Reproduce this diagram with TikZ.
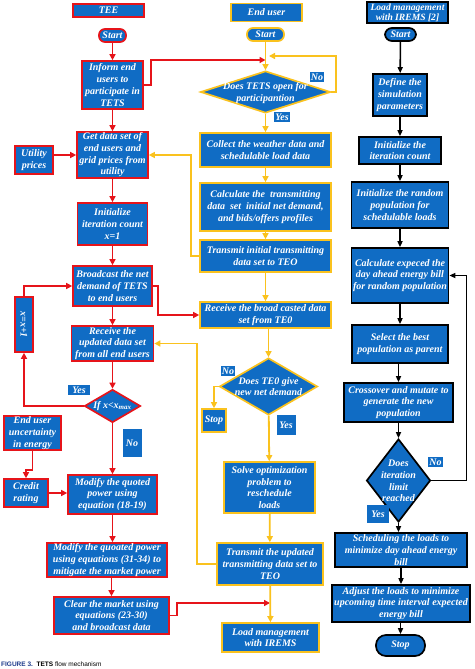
\documentclass[tikz,border=0pt]{standalone}
\usepackage{fontspec}
\setmainfont{Liberation Serif}
\newfontfamily\capfont{Liberation Sans}
\usetikzlibrary{shapes.geometric,arrows.meta}
\definecolor{bfill}{RGB}{16,108,196}
\definecolor{rline}{RGB}{230,20,26}
\definecolor{yline}{RGB}{250,194,30}
\definecolor{capblue}{RGB}{30,60,140}
\newcommand{\fs}{\fontsize{10}{11.7}\selectfont\bfseries\itshape}
\tikzset{
  base/.style={fill=bfill, text=white, font=\fs, align=center, inner sep=0.5pt, line width=1.7pt},
  rbox/.style={base, draw=rline},
  ybox/.style={base, draw=yline},
  kbox/.style={base, draw=black},
  rstart/.style={rbox, rounded corners=6pt},
  ystart/.style={ybox, rounded corners=6pt},
  kstart/.style={kbox, rounded corners=7pt},
  dia/.style={diamond, fill=bfill, line width=1.7pt, inner sep=0pt},
  dtext/.style={text=white, font=\fs, align=center, inner sep=0pt},
  lab/.style={fill=bfill, text=white, font=\fs, inner sep=1.2pt},
  rarr/.style={draw=rline, line width=1.6pt, -{Triangle[length=6pt,width=6pt]}},
  yarr/.style={draw=yline, line width=1.8pt, -{Triangle[length=6pt,width=6pt]}},
  karr/.style={draw=black, line width=1.6pt, -{Triangle[length=6pt,width=5pt]}}
}
\begin{document}
\begin{tikzpicture}[x=1pt,y=-1pt]
\useasboundingbox[fill=white] (0,0) rectangle (474,669);

% ---------------- left column (TEE) ----------------
\node[rbox, minimum width=71pt, minimum height=13pt] (tee) at (108.5,10.5) {TEE};
\node[rstart, minimum width=27pt, minimum height=13pt] (tstart) at (112.5,35.5) {Start};
\node[rbox, minimum width=61pt, minimum height=48pt] (inform) at (112.5,85) {Inform end\\users to\\participate in\\TETS};
\node[rbox, minimum width=71pt, minimum height=46pt] (getdata) at (112.5,155) {Get data set of\\end users and\\grid prices from\\utility};
\node[rbox, minimum width=38pt, minimum height=28pt] (utility) at (34,160) {Utility\\prices};
\node[rbox, minimum width=70pt, minimum height=42pt] (init) at (112.5,224) {Initialize\\iteration count\\x=1};
\node[rbox, minimum width=79pt, minimum height=40pt] (bcast) at (112.5,286) {Broadcast the net\\demand of TETS\\to end users};
\node[rbox, minimum width=18pt, minimum height=55pt] (loopb) at (24,324.5) {};
\node[dtext, rotate=-90] (loopt) at (loopb) {x=x+1};
\node[rbox, minimum width=82pt, minimum height=35pt] (recvu) at (112.5,343.5) {Receive the\\updated data set\\from all end users};
\node[dia, draw=rline, minimum width=56pt, minimum height=33pt] (dx) at (112.5,406) {};
\node[dtext] (dxt) at (dx) {If x<x\textsubscript{max}};
\node[lab, minimum width=22pt] (yes1) at (79,390) {Yes};
\node[lab, minimum width=19pt, minimum height=28pt] (no1) at (132,443) {No};
\node[rbox, minimum width=57pt, minimum height=34pt] (uncert) at (32.5,433) {End user\\uncertainty\\in energy};
\node[rbox, minimum width=44pt, minimum height=28pt] (credit) at (26,493) {Credit\\rating};
\node[rbox, minimum width=89pt, minimum height=39pt] (modify) at (112.5,494.5) {Modify the quoted\\power using\\equation (18-19)};
\node[rbox, minimum width=120pt, minimum height=34pt] (modq) at (107,560) {Modify the quoated power\\using equations (31-34) to\\mitigate the market power};
\node[rbox, minimum width=115pt, minimum height=37pt] (clear) at (111.5,615.5) {Clear the market using\\equations (23-30)\\and broadcast data};

% ---------------- middle column (End user) ----------------
\node[ybox, minimum width=71pt, minimum height=18pt] (euser) at (266.5,12.5) {End user};
\node[ystart, minimum width=37pt, minimum height=13pt] (estart) at (265.5,34.5) {Start};
\node[dia, draw=yline, minimum width=130pt, minimum height=42pt] (d1) at (265.5,92) {};
\node[dtext] (d1t) at (265.5,93) {Does TETS open for\\participantion};
\node[lab] (no2) at (317,77) {No};
\node[lab] (yes2) at (282,117) {Yes};
\node[ybox, minimum width=131pt, minimum height=34pt] (collect) at (265.5,150) {Collect the weather data and\\schedulable load data};
\node[ybox, minimum width=131pt, minimum height=48pt] (calc) at (265.5,207) {Calculate the \ transmitting\\data \ set \ initial net demand,\\and bids/offers profiles};
\node[ybox, minimum width=131pt, minimum height=32pt] (transi) at (265.5,256) {Transmit initial transmitting\\data set to TEO};
\node[ybox, minimum width=131pt, minimum height=26pt] (rbroad) at (265.5,315) {Receive the broad casted data\\set from TE0};
\node[dia, draw=yline, minimum width=98pt, minimum height=57pt] (d2) at (268.5,386.5) {};
\node[dtext] (d2t) at (268.5,386.5) {Does TE0 give\\new net demand};
\node[lab] (no3) at (228,371) {No};
\node[ybox, minimum width=24pt, minimum height=23pt] (ystop) at (214,420.5) {Stop};
\node[lab, minimum width=19pt, minimum height=20pt] (yes3) at (286,425) {Yes};
\node[ybox, minimum width=91pt, minimum height=51pt] (solve) at (269.5,487.5) {Solve optimization\\problem to\\reschedule\\loads};
\node[ybox, minimum width=106pt, minimum height=42pt] (transu) at (270,564) {Transmit the updated\\transmitting data set to\\TEO};
\node[ybox, minimum width=97pt, minimum height=29pt] (loadm) at (270.5,637.5) {Load management\\with IREMS};

% ---------------- right column (IREMS) ----------------
\node[kbox, minimum width=81pt, minimum height=21pt, inner sep=0pt, font=\fontsize{9.6}{10}\selectfont\bfseries\itshape] (ktitle) at (407.5,12.5) {Load management\\with IREMS [2]};
\node[kstart, minimum width=31pt, minimum height=13pt] (kst) at (400.5,34.5) {Start};
\node[kbox, minimum width=54pt, minimum height=42pt] (define) at (400,95) {Define the\\simulation\\parameters};
\node[kbox, minimum width=82pt, minimum height=27pt] (initc) at (400,150.5) {Initialize the\\iteration count};
\node[kbox, minimum width=97pt, minimum height=46pt] (initr) at (400,205) {Initialize the random\\population for\\schedulable loads};
\node[kbox, minimum width=97pt, minimum height=55pt] (calce) at (400,275.5) {Calculate expeced the\\day ahead energy bill\\for random population};
\node[kbox, minimum width=96pt, minimum height=38pt] (select) at (400,344) {Select the best\\population as parent};
\node[kbox, minimum width=109pt, minimum height=39pt] (cross) at (398.5,402.5) {Crossover and mutate to\\generate the new\\population};
\node[dia, draw=black, minimum width=64pt, minimum height=83pt] (d3) at (398.5,480.5) {};
\node[dtext] (d3t) at (398.5,481) {Does\\iteration\\limit\\reached};
\node[lab] (no4) at (435.5,462) {No};
\node[lab, minimum width=22pt, minimum height=18pt] (yes4) at (378,514) {Yes};
\node[kbox, minimum width=132pt, minimum height=34pt] (sched) at (401,550) {Scheduling the loads to\\minimize day ahead energy\\bill};
\node[kbox, minimum width=138pt, minimum height=37pt] (adjust) at (401,603.5) {Adjust the loads to minimize\\upcoming time interval expected\\energy bill};
\node[kstart, minimum width=49pt, minimum height=21pt, rounded corners=10pt] (kstop) at (400.5,645.5) {Stop};

% caption
\node[anchor=north west, inner sep=0pt, font=\capfont\fontsize{6.5}{7}\selectfont] (cap) at (1,661.5) {\textcolor{capblue}{\bfseries FIGURE 3.}\ \ \textbf{TETS} flow mechanism};

% ---------------- junction coordinates ----------------
\coordinate (j1) at (265.5,60);
\coordinate (j1b) at (269,56);
\coordinate (j2) at (270,603);

% ---------------- red connectors ----------------
\draw[rarr] (tstart) -- (inform);
\draw[rarr] (inform) -- (getdata);
\draw[rarr] (inform.east) -- ++(7,0) |- (j1);
\draw[rarr] (utility.east |- getdata.west) -- (getdata.west);
\draw[rarr] (getdata) -- (init);
\draw[rarr] (init) -- (bcast);
\draw[rarr] (bcast.east) -- ++(5,0) |- (rbroad.west);
\draw[rarr] (bcast) -- (recvu);
\draw[rarr] (recvu) -- (dx);
\draw[rarr] (dx.west) -| (loopb.south);
\draw[rarr] (loopb.north) |- (bcast.west);
\draw[rarr] (dx) -- (modify);
\draw[rarr] (uncert.south) -- ++(0,19) -| (credit.north);
\draw[rarr] (credit.east) -- (credit.east -| modify.west);
\draw[rarr] (modify.south) -- (modify.south |- modq.north);
\draw[rarr] (modq.south -| clear) -- (clear.north);
\draw[rarr] (clear.east) -- ++(7,0) |- (j2);

% ---------------- yellow connectors ----------------
\draw[yarr] (estart) -- (d1.north);
\draw[yarr] (d1.east) -- ++(5,0) |- (j1b);
\draw[yarr] (d1) -- (collect);
\draw[yarr] (collect) -- (calc);
\draw[yarr] (calc) -- (transi);
\draw[yarr] (transi) -- (rbroad);
\draw[yarr] (transi.west) -- ++(-8,0) |- (getdata.east);
\draw[yarr] (rbroad.south -| d2) -- (d2.north);
\draw[yarr] (d2.west) -| (ystop.north);
\draw[yarr] (d2) -- (solve);
\draw[yarr] (solve) -- (transu);
\draw[yarr] (transu) -- (loadm);
\draw[yarr] (transu.west) -- ++(-19,0) |- (recvu.east);

% ---------------- black connectors ----------------
\draw[karr] (kst) -- (define);
\draw[karr] (define) -- (initc);
\draw[karr] (initc) -- (initr);
\draw[karr] (initr) -- (calce);
\draw[karr] (calce) -- (select);
\draw[karr] (select.south -| cross) -- (cross.north);
\draw[karr] (cross) -- (d3);
\draw[karr] (d3.south) -- (d3.south |- sched.north);
\draw[karr] (sched) -- (adjust);
\draw[karr] (adjust.south -| kstop) -- (kstop.north);
\draw[karr] (d3.east) -- ++(35,0) |- (calce.east);
\end{tikzpicture}
\end{document}
